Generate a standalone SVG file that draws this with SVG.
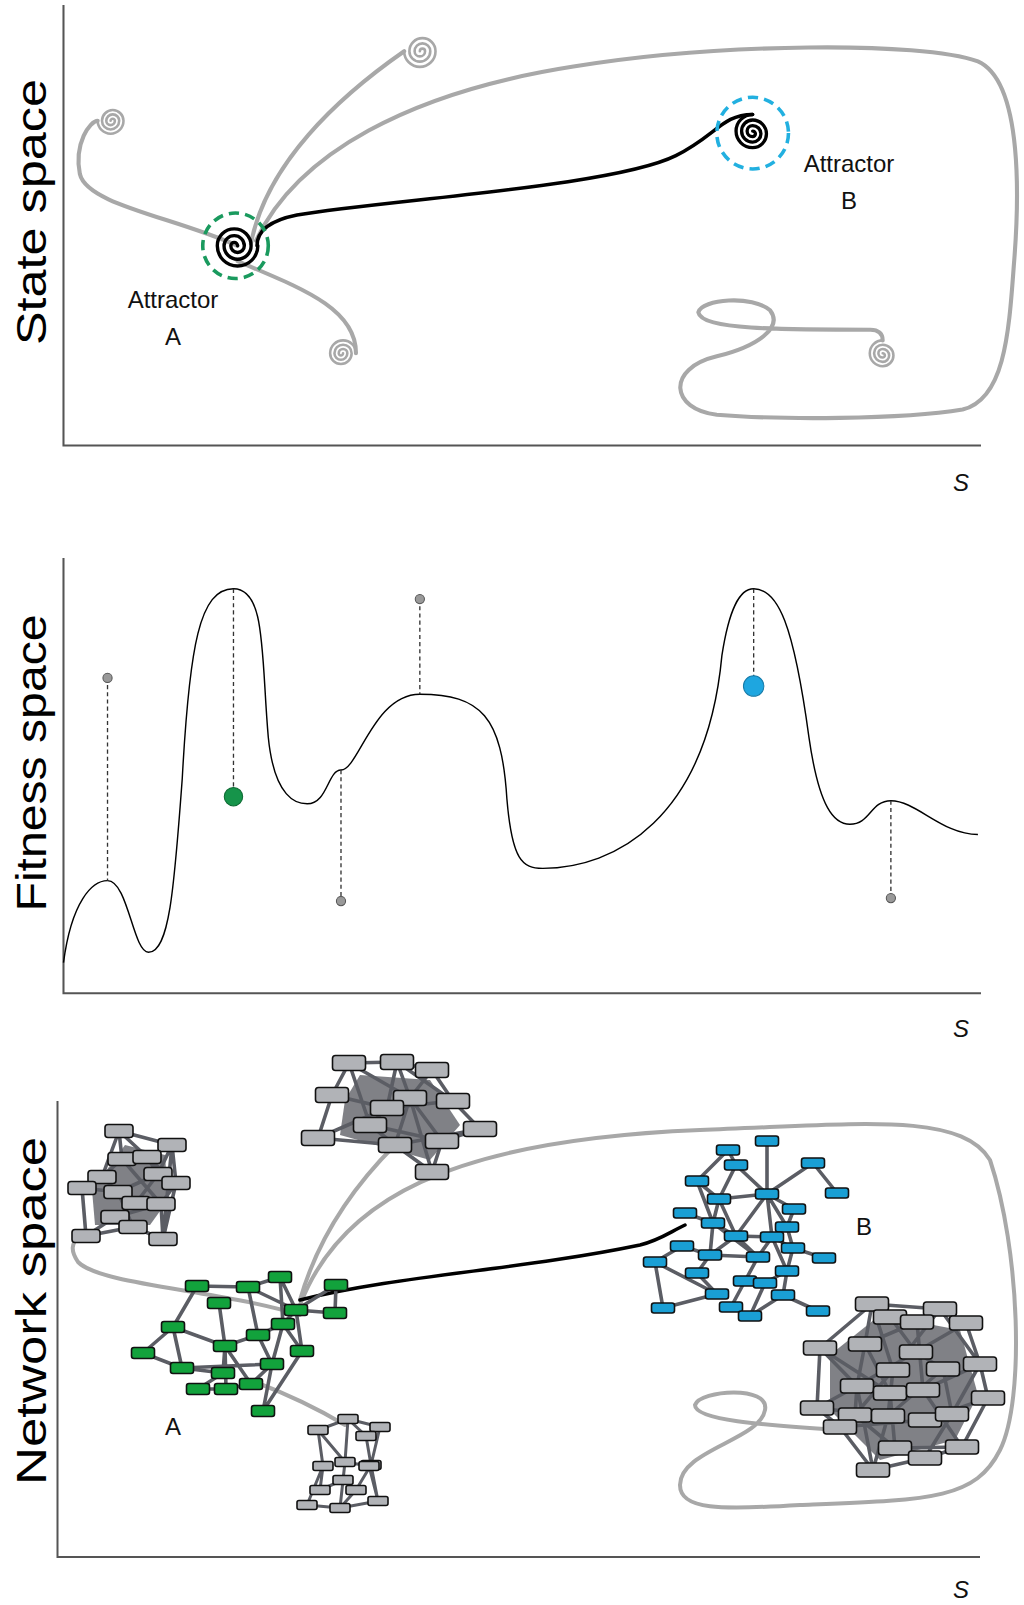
<svg xmlns="http://www.w3.org/2000/svg" xmlns:xlink="http://www.w3.org/1999/xlink" width="1024" height="1605" viewBox="0 0 1024 1605">
<style>
.ax{stroke:#555;stroke-width:2;fill:none}
.gc{stroke:#a8a8a8;stroke-width:4;fill:none;stroke-linecap:round}
.bk{stroke:#000;stroke-width:3.5;fill:none;stroke-linecap:round}
.fit{stroke:#000;stroke-width:1.4;fill:none}
.dl{stroke:#333;stroke-width:1.3;stroke-dasharray:4 3}
.ttl{font-family:"Liberation Sans",Arial,sans-serif;font-size:42px;fill:#000}
.lb{font-family:"Liberation Sans",Arial,sans-serif;font-size:24px;fill:#111}
.s{font-family:"Liberation Sans",Arial,sans-serif;font-size:24px;font-style:italic;fill:#111}
.ed{stroke:#5b5d64;stroke-width:3.6;fill:none;stroke-linejoin:round}
.hull{fill:#55575d;opacity:.75}
.nd{stroke:#111;stroke-width:1.6}
</style>
<defs>
<path id="sp" fill="none" d="M0,0 a1.5,1.5 0 0 1 3,0 a3,3 0 0 1 -6,0 a4.5,4.5 0 0 1 9,0 a6,6 0 0 1 -12,0 a7.5,7.5 0 0 1 15,0 a9,9 0 0 1 -18,0"/>
<rect id="gn" x="-11.5" y="-5.5" width="23" height="11" rx="2.5" fill="#12a23c" class="nd"/>
<rect id="bn" x="-11.5" y="-5" width="23" height="10" rx="2.5" fill="#1a9fd4" class="nd"/>
<rect id="tn" x="-16.5" y="-7.5" width="33" height="15" rx="3" fill="#b1b3b7" class="nd"/>
<rect id="ln" x="-14" y="-6.5" width="28" height="13" rx="3" fill="#b1b3b7" class="nd"/>
<rect id="kn" x="-16.5" y="-7" width="33" height="14" rx="3" fill="#b1b3b7" class="nd"/>
<rect id="sn" x="-10" y="-4.5" width="20" height="9" rx="2" fill="#b1b3b7" class="nd"/>
</defs>

<!-- Panel 1: State space -->
<g id="panel-state" transform="scale(1.024)">
<path class="ax" d="M62,5 V435 H958"/>
<g id="state-curves">
<path class="gc" d="M232,240 C170,212 85,200 78,170 C72,140 88,118 95.4,118"/>
<use href="#sp" class="gc" style="stroke-width:1.8" transform="translate(108,118) scale(1.4)"/>
<path class="gc" d="M245,238 C260,160 330,95 394.7,50"/>
<use href="#sp" class="gc" style="stroke-width:1.5" transform="translate(410,50) scale(1.7)"/>
<path class="gc" d="M232,255 C290,280 348,300 347.6,345"/>
<use href="#sp" class="gc" style="stroke-width:1.8" transform="translate(335,345) rotate(180) scale(1.4)"/>
<path class="gc" d="M250,235 C290,150 400,90 560,65 C700,42 900,40 955,60 C1000,80 995,200 990,260 C985,330 980,390 940,400 C880,410 760,410 700,405 C655,400 650,360 700,348 C740,338 765,320 752,303 C735,288 685,292 682,305 C685,322 760,322 850,322 C858,322 862,326 862,332.4"/>
<use href="#sp" class="gc" style="stroke-width:1.8" transform="translate(862,345) rotate(90) scale(1.4)"/>
<path class="bk" d="M251,240 C251,225 265,215 290,210 C380,195 600,182 660,152 C700,132 705,112 735,111.8"/>
<use href="#sp" class="bk" style="stroke-width:1.5" transform="translate(232,240) scale(-2.2,2.2)"/>
<use href="#sp" class="bk" style="stroke-width:1.8" transform="translate(735,128) rotate(90) scale(1.8)"/>
</g>
<circle cx="230" cy="240" r="32" fill="none" stroke="#1a9a5e" stroke-width="3.5" stroke-dasharray="10 6"/>
<circle cx="735" cy="130" r="35" fill="none" stroke="#22b0e0" stroke-width="3.5" stroke-dasharray="10 6"/>
</g>
<text class="ttl" transform="translate(46,212) rotate(-90)" text-anchor="middle" textLength="266" lengthAdjust="spacingAndGlyphs">State space</text>
<text class="lb" x="173" y="308" text-anchor="middle">Attractor</text>
<text class="lb" x="173" y="345" text-anchor="middle">A</text>
<text class="lb" x="849" y="172" text-anchor="middle">Attractor</text>
<text class="lb" x="849" y="209" text-anchor="middle">B</text>
<text class="s" x="961" y="491" text-anchor="middle">S</text>

<!-- Panel 2: Fitness space -->
<g id="panel-fitness" transform="scale(1.024)">
<path class="ax" d="M62,545 V970 H958"/>
<path class="fit" d="M62,940 C70,880 90,860 105,860 C125,860 130,930 145,930 C165,930 170,870 178,760 C185,630 195,575 228,575 C260,575 255,640 262,720 C268,780 290,785 300,785 C320,785 320,752 333,752 C350,752 365,678 410,678 C470,678 490,700 495,780 C500,840 510,848 530,848 C600,848 690,800 705,640 C712,595 722,575 736,575 C760,575 775,610 790,720 C800,790 815,805 830,805 C850,805 850,782 870,782 C895,782 920,815 955,815"/>
<g id="fitness-markers">
<path class="dl" d="M105,662 V860 M228,575 V778 M333,752 V880 M410,585 V678 M736,575 V670 M870,782 V877"/>
<circle cx="105" cy="662" r="4.5" fill="#999" stroke="#555"/>
<circle cx="333" cy="880" r="4.5" fill="#999" stroke="#555"/>
<circle cx="410" cy="585" r="4.5" fill="#999" stroke="#555"/>
<circle cx="870" cy="877" r="4.5" fill="#999" stroke="#555"/>
<circle cx="228" cy="778" r="9" fill="#16944a" stroke="#0d6a33"/>
<circle cx="736" cy="670" r="10" fill="#1ea6e0" stroke="#157aa8"/>
</g>
</g>
<text class="ttl" transform="translate(46,763) rotate(-90)" text-anchor="middle" textLength="297" lengthAdjust="spacingAndGlyphs">Fitness space</text>
<text class="s" x="961" y="1037" text-anchor="middle">S</text>

<!-- Panel 3: Network space -->
<path class="ax" d="M57.5,1101 V1557 H980"/>
<text class="ttl" transform="translate(46,1311) rotate(-90)" text-anchor="middle" textLength="348" lengthAdjust="spacingAndGlyphs">Network space</text>
<text class="s" x="961" y="1598" text-anchor="middle">S</text>
<text class="lb" x="173" y="1435" text-anchor="middle">A</text>
<text class="lb" x="864" y="1235" text-anchor="middle">B</text>

<g id="connectors">
<path class="gc" d="M300,1300 C320,1230 360,1180 395,1145"/>
<path class="gc" d="M300,1305 C340,1200 450,1140 700,1130 C850,1125 960,1110 990,1160 C1020,1250 1025,1400 1000,1450 C975,1500 930,1500 800,1505 C720,1510 680,1510 680,1485 C680,1450 760,1440 765,1410 C770,1385 700,1390 695,1405 C695,1420 760,1425 840,1430"/>
<path class="gc" d="M300,1315 C220,1290 100,1285 78,1262 C70,1250 72,1244 78,1236"/>
<path class="gc" d="M250,1380 C290,1395 320,1410 345,1425"/>
<path class="bk" d="M300,1300 C400,1275 520,1270 640,1245 C660,1240 670,1232 685,1225"/>
</g>

<g id="cluster-left">
<path class="hull" d="M125,1145 165,1155 168,1200 150,1225 95,1225 92,1190Z"/>
<path class="ed" d="M119,1131 L172,1145 L176,1183 L161,1204 L163,1239 L133,1227 L86,1236 L82,1188 L102,1177 L122,1159 L119,1131 L147,1157 L158,1174 L136,1203 L115,1217 L86,1236 M119,1131 L102,1177 L118,1192 L133,1227 M172,1145 L158,1174 L118,1192 L82,1188 M147,1157 L176,1183 L163,1239 M122,1159 L161,1204 L115,1217 M172,1145 L163,1239"/>
<use href="#ln" x="119" y="1131"/><use href="#ln" x="172" y="1145"/><use href="#ln" x="122" y="1159"/><use href="#ln" x="147" y="1157"/><use href="#ln" x="102" y="1177"/><use href="#ln" x="158" y="1174"/><use href="#ln" x="176" y="1183"/><use href="#ln" x="82" y="1188"/><use href="#ln" x="118" y="1192"/><use href="#ln" x="136" y="1203"/><use href="#ln" x="161" y="1204"/><use href="#ln" x="115" y="1217"/><use href="#ln" x="133" y="1227"/><use href="#ln" x="86" y="1236"/><use href="#ln" x="163" y="1239"/>
</g>

<g id="cluster-top">
<path class="hull" d="M360,1075 430,1080 460,1125 430,1160 340,1135 345,1100Z"/>
<path class="ed" d="M349,1063 L397,1062 L432,1070 L453,1101 L480,1129 L442,1141 L432,1172 L395,1145 L318,1138 L332,1095 L349,1063 L370,1125 L395,1145 L410,1098 L397,1062 L387,1108 L318,1138 M432,1070 L410,1098 L442,1141 M453,1101 L387,1108 L370,1125 L442,1141 M349,1063 L410,1098 M332,1095 L387,1108 M397,1062 L453,1101 M432,1172 L410,1098 M480,1129 L395,1145"/>
<use href="#tn" x="349" y="1063"/><use href="#tn" x="397" y="1062"/><use href="#tn" x="432" y="1070"/><use href="#tn" x="332" y="1095"/><use href="#tn" x="410" y="1098"/><use href="#tn" x="387" y="1108"/><use href="#tn" x="453" y="1101"/><use href="#tn" x="370" y="1125"/><use href="#tn" x="318" y="1138"/><use href="#tn" x="395" y="1145"/><use href="#tn" x="442" y="1141"/><use href="#tn" x="480" y="1129"/><use href="#tn" x="432" y="1172"/>
</g>

<g id="cluster-bottom">
<path class="ed" style="stroke-width:3" d="M348,1419 L318,1430 L323,1466 L307,1505 L340,1508 L378,1501 L371,1465 L380,1427 L348,1419 L345,1462 L340,1508 M366,1436 L371,1465 L356,1490 L340,1508 M318,1430 L345,1462 L369,1466 L378,1501 M323,1466 L320,1490 L343,1480 L356,1490 M348,1419 L366,1436 L380,1427 M345,1462 L343,1480"/>
<use href="#sn" x="348" y="1419"/><use href="#sn" x="318" y="1430"/><use href="#sn" x="380" y="1427"/><use href="#sn" x="366" y="1436"/><use href="#sn" x="345" y="1462"/><use href="#sn" x="323" y="1466"/><use href="#sn" x="371" y="1465"/><use href="#sn" x="320" y="1490"/><use href="#sn" x="343" y="1480"/><use href="#sn" x="369" y="1466"/><use href="#sn" x="356" y="1490"/><use href="#sn" x="307" y="1505"/><use href="#sn" x="340" y="1508"/><use href="#sn" x="378" y="1501"/>
</g>

<g id="cluster-big">
<path class="hull" d="M880,1315 960,1330 978,1395 955,1440 880,1460 830,1410 830,1355Z"/>
<path class="ed" d="M872,1304 L940,1309 L966,1323 L980,1364 L988,1398 L962,1447 L925,1458 L873,1470 L840,1427 L817,1408 L820,1348 L872,1304 L893,1370 L888,1416 L873,1470 M890,1317 L916,1352 L943,1369 L952,1414 L925,1458 M917,1322 L865,1344 L857,1386 L855,1415 L895,1448 L962,1447 M820,1348 L890,1393 L923,1390 L980,1364 M940,1309 L893,1370 L855,1415 M966,1323 L916,1352 L857,1386 L817,1408 M988,1398 L925,1420 L840,1427 M872,1304 L865,1344 L890,1393 L895,1448 M943,1369 L888,1416 L817,1408 M917,1322 L923,1390 L962,1447 M820,1348 L857,1386 L873,1470 M940,1309 L980,1364 L952,1414"/>
<use href="#kn" x="872" y="1304"/><use href="#kn" x="940" y="1309"/><use href="#kn" x="890" y="1317"/><use href="#kn" x="966" y="1323"/><use href="#kn" x="917" y="1322"/><use href="#kn" x="820" y="1348"/><use href="#kn" x="865" y="1344"/><use href="#kn" x="916" y="1352"/><use href="#kn" x="980" y="1364"/><use href="#kn" x="893" y="1370"/><use href="#kn" x="943" y="1369"/><use href="#kn" x="857" y="1386"/><use href="#kn" x="890" y="1393"/><use href="#kn" x="923" y="1390"/><use href="#kn" x="988" y="1398"/><use href="#kn" x="817" y="1408"/><use href="#kn" x="855" y="1415"/><use href="#kn" x="888" y="1416"/><use href="#kn" x="925" y="1420"/><use href="#kn" x="952" y="1414"/><use href="#kn" x="840" y="1427"/><use href="#kn" x="895" y="1448"/><use href="#kn" x="962" y="1447"/><use href="#kn" x="925" y="1458"/><use href="#kn" x="873" y="1470"/>
</g>

<g id="cluster-green">
<path class="ed" d="M197,1286 L248,1287 L280,1277 M197,1286 L173,1327 M248,1287 L258,1335 M280,1277 L296,1310 L336,1285 L335,1313 L296,1310 M219,1303 L225,1346 L173,1327 L143,1353 L182,1368 L173,1327 M225,1346 L258,1335 L283,1324 L296,1310 M225,1346 L223,1373 L198,1389 L226,1389 L251,1384 L272,1364 L283,1324 M272,1364 L263,1411 L302,1351 L283,1324 M302,1351 L296,1310 M258,1335 L272,1364 M248,1287 L296,1310 M182,1368 L223,1373 M182,1368 L272,1364 M225,1346 L226,1389 M225,1346 L251,1384 M280,1277 L283,1324"/>
<use href="#gn" x="197" y="1286"/><use href="#gn" x="248" y="1287"/><use href="#gn" x="280" y="1277"/><use href="#gn" x="336" y="1285"/><use href="#gn" x="219" y="1303"/><use href="#gn" x="296" y="1310"/><use href="#gn" x="335" y="1313"/><use href="#gn" x="173" y="1327"/><use href="#gn" x="283" y="1324"/><use href="#gn" x="258" y="1335"/><use href="#gn" x="143" y="1353"/><use href="#gn" x="225" y="1346"/><use href="#gn" x="302" y="1351"/><use href="#gn" x="182" y="1368"/><use href="#gn" x="272" y="1364"/><use href="#gn" x="223" y="1373"/><use href="#gn" x="198" y="1389"/><use href="#gn" x="226" y="1389"/><use href="#gn" x="251" y="1384"/><use href="#gn" x="263" y="1411"/>
</g>

<g id="cluster-blue">
<path class="ed" d="M767,1141 L767,1194 M728,1150 L736,1165 L719,1199 M736,1165 L767,1194 L813,1163 L837,1193 M697,1181 L719,1199 L713,1223 L697,1181 M767,1194 L719,1199 M767,1194 L794,1209 L787,1227 L772,1237 L736,1236 L767,1194 L772,1237 M719,1199 L736,1236 L713,1223 L685,1213 M713,1223 L710,1255 L682,1246 L655,1262 L663,1308 M787,1227 L793,1248 L824,1258 M736,1236 L758,1257 L772,1237 L793,1248 L787,1271 L765,1283 L745,1281 L758,1257 L710,1255 L697,1273 L717,1294 L663,1308 M655,1262 L717,1294 M745,1281 L731,1307 M765,1283 L750,1316 M787,1271 L783,1295 L818,1311 M783,1295 L750,1316 M728,1150 L697,1181 M736,1236 L710,1255 M772,1237 L787,1271 M713,1223 L758,1257 M787,1227 L767,1194"/>
<use href="#bn" x="767" y="1141"/><use href="#bn" x="728" y="1150"/><use href="#bn" x="736" y="1165"/><use href="#bn" x="813" y="1163"/><use href="#bn" x="697" y="1181"/><use href="#bn" x="767" y="1194"/><use href="#bn" x="837" y="1193"/><use href="#bn" x="719" y="1199"/><use href="#bn" x="794" y="1209"/><use href="#bn" x="685" y="1213"/><use href="#bn" x="713" y="1223"/><use href="#bn" x="787" y="1227"/><use href="#bn" x="736" y="1236"/><use href="#bn" x="772" y="1237"/><use href="#bn" x="682" y="1246"/><use href="#bn" x="793" y="1248"/><use href="#bn" x="710" y="1255"/><use href="#bn" x="758" y="1257"/><use href="#bn" x="824" y="1258"/><use href="#bn" x="655" y="1262"/><use href="#bn" x="697" y="1273"/><use href="#bn" x="787" y="1271"/><use href="#bn" x="745" y="1281"/><use href="#bn" x="765" y="1283"/><use href="#bn" x="717" y="1294"/><use href="#bn" x="783" y="1295"/><use href="#bn" x="663" y="1308"/><use href="#bn" x="731" y="1307"/><use href="#bn" x="750" y="1316"/><use href="#bn" x="818" y="1311"/>
</g>
</svg>
